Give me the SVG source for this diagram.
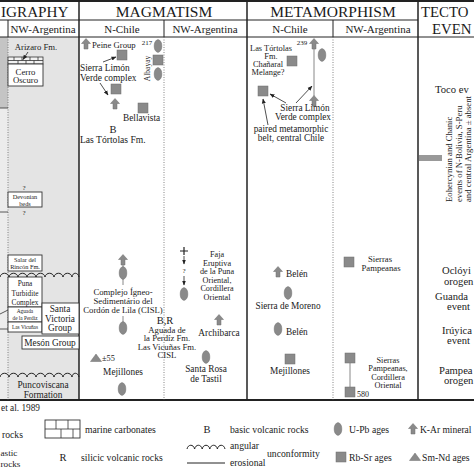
<svg xmlns="http://www.w3.org/2000/svg" width="474" height="474" viewBox="0 0 474 474">
<defs>
<style>
text{font-family:"Liberation Serif","Times New Roman",serif;fill:#1a1a1a}
.h{font-size:15.5px}
.sh{font-size:11px}
.m{font-size:9.3px}
.s{font-size:8.7px}
.xs{font-size:6.3px}
.xxs{font-size:5.3px}
.tiny{font-size:7px}
.tk{font-size:10.6px}
.lg{font-size:9.7px}
.fj{font-size:8.2px}
.c{text-anchor:middle}
.e{text-anchor:end}
.frame{stroke:#222;stroke-width:1.5;fill:none}
.thin{stroke:#222;stroke-width:1;fill:none}
.dot{stroke:#666;stroke-width:0.8;stroke-dasharray:1 1.5;fill:none}
.box{fill:#fff;stroke:#333;stroke-width:0.9}
.sym{fill:#8a8a8a;stroke:#6e6e6e;stroke-width:0.5}
.ln{stroke:#333;stroke-width:0.8;fill:none}
.arr{stroke:#222;stroke-width:0.8;fill:none;marker-end:url(#ah)}
.gl{stroke:#888;stroke-width:1;fill:none}
.wave{stroke:#222;stroke-width:1;fill:none}
</style>
<marker id="ah" viewBox="0 0 10 10" refX="9" refY="5" markerUnits="userSpaceOnUse" markerWidth="5" markerHeight="5" orient="auto"><path d="M0,1 L10,5 L0,9 Z" fill="#222"/></marker>
<path id="upb" d="M0,-6.5 C3,-5.5 3.8,-3 3.8,0 C3.8,3 3,5.5 0,6.5 C-3,5.5 -3.8,3 -3.8,0 C-3.8,-3 -3,-5.5 0,-6.5 Z"/>
<path id="kar" d="M0,-5.5 L4.5,-0.5 L2,-0.5 L2,5 L-2,5 L-2,-0.5 L-4.5,-0.5 Z"/>
<rect id="rbsr" x="-5" y="-5" width="10" height="10"/>
<path id="smnd" d="M0,-4 L5.5,3.5 L-5.5,3.5 Z"/>
</defs>
<rect width="474" height="474" fill="#fff"/>

<g id="backgrounds">
<rect x="8" y="37" width="71" height="363" fill="#e4e4e4"/>
<rect x="0" y="37" width="8" height="71" fill="#c4c4c4"/>
<rect x="0" y="108" width="8" height="292" fill="#ececec"/>
</g>

<g id="frame">
<line x1="0" y1="1" x2="474" y2="1" stroke="#222" stroke-width="2"/>
<line class="thin" x1="0" y1="20" x2="418" y2="20"/>
<line class="thin" x1="0" y1="37" x2="474" y2="37"/>
<line x1="0" y1="400" x2="474" y2="400" stroke="#222" stroke-width="2"/>
<line class="frame" x1="79" y1="0" x2="79" y2="400"/>
<line class="frame" x1="247" y1="0" x2="247" y2="400"/>
<line class="frame" x1="418" y1="0" x2="418" y2="400"/>
<line class="thin" x1="8" y1="20" x2="8" y2="37"/>
<line class="thin" x1="164" y1="20" x2="164" y2="37"/>
<line class="thin" x1="333" y1="20" x2="333" y2="37"/>
<line class="dot" x1="8" y1="37" x2="8" y2="400"/>
<line class="dot" x1="164" y1="37" x2="164" y2="400"/>
<line class="dot" x1="333" y1="37" x2="333" y2="400"/>
<line class="ln" x1="0" y1="108" x2="8" y2="108"/>
<line class="ln" x1="0" y1="212" x2="8" y2="212"/>
<line class="ln" x1="0" y1="314" x2="8" y2="310"/>
<line class="ln" x1="0" y1="329" x2="8" y2="329"/>
</g>

<g id="headers">
<text class="h e" x="68.5" y="17" style="font-size:15.2px">IGRAPHY</text>
<text class="h c" x="164" y="17">MAGMATISM</text>
<text class="h c" x="333" y="17">METAMORPHISM</text>
<text x="421" y="17" style="font-size:14.8px">TECTO</text>
<text x="432" y="34" style="font-size:14.8px">EVEN</text>
<text class="sh c" x="43" y="33">NW-Argentina</text>
<text class="sh c" x="122" y="33">N-Chile</text>
<text class="sh c" x="205" y="33">NW-Argentina</text>
<text class="sh c" x="290" y="33">N-Chile</text>
<text class="sh c" x="378" y="33">NW-Argentina</text>
</g>

<g id="strat-arizaro">
<text class="s c" x="36" y="50">Arizaro Fm.</text>
<rect x="8" y="57" width="35" height="7" fill="#f2f2f2" stroke="#333" stroke-width="0.8"/>
<path class="ln" d="M8,60.5 H43 M14,57 V60.5 M22,57 V60.5 M30,57 V60.5 M38,57 V60.5 M18,60.5 V64 M26,60.5 V64 M34,60.5 V64"/>
</g>
<g id="strat-cerro">
<rect class="box" x="8" y="64" width="35" height="22"/>
<text class="s c" x="25.5" y="74.5">Cerro</text>
<text class="s c" x="25.5" y="83">Oscuro</text>
</g>
<g id="strat-devonian">
<text class="tiny c" x="24" y="190">?</text>
<rect class="box" x="8" y="192" width="34" height="15"/>
<text class="xs c" x="25" y="198.5">Devonian</text>
<text class="xs c" x="25" y="205.5">beds</text>
<text class="tiny c" x="24" y="214.5">?</text>
</g>
<g id="strat-salar">
<rect class="box" x="8" y="255" width="34" height="16"/>
<text class="xs c" x="25" y="261.5">Salar del</text>
<text class="xs c" x="25" y="268.5">Rincón Fm.</text>
</g>
<g id="strat-puna">
<rect class="box" x="8" y="277" width="34" height="30"/>
<text class="c" x="25" y="286" style="font-size:7.3px">Puna</text>
<text class="c" x="25" y="295.5" style="font-size:7.3px">Turbidite</text>
<text class="c" x="25" y="304.5" style="font-size:7.3px">Complex</text>
</g>
<g id="strat-aguada">
<rect class="box" x="8" y="307" width="34" height="15"/>
<text class="xxs c" x="25" y="313">Aguada</text>
<text class="xxs c" x="25" y="319.5">de la Perdiz</text>
</g>
<g id="strat-vicunas">
<rect class="box" x="8" y="322" width="34" height="10"/>
<text class="xxs c" x="25" y="329.3">Las Vicuñas</text>
</g>
<g id="strat-santa-victoria">
<rect class="box" x="42" y="303" width="37" height="31"/>
<text class="m c" x="60" y="312">Santa</text>
<text class="m c" x="60" y="321.5">Victoria</text>
<text class="m c" x="60" y="331">Group</text>
</g>
<g id="strat-meson">
<rect class="box" x="22" y="336" width="57" height="13"/>
<text class="m c" x="50" y="346">Mesón Group</text>
</g>
<g id="strat-puncoviscana">
<text class="m c" x="43" y="388">Puncoviscana</text>
<text class="m c" x="43" y="397.5">Formation</text>
</g>
<g id="unconformities">
<path class="wave" d="M0,277 c1,-5 8,-5 9,0 c1,-5 8,-5 9,0 c1,-5 8,-5 9,0 c1,-5 8,-5 9,0 c1,-5 8,-5 9,0 c1,-5 8,-5 9,0 c1,-5 8,-5 9,0 c1,-5 8,-5 9,0 c0.5,-5 6,-5 7,0"/>
<path class="wave" d="M0,377 c1,-5 8,-5 9,0 c1,-5 8,-5 9,0 c1,-5 8,-5 9,0 c1,-5 8,-5 9,0 c1,-5 8,-5 9,0 c1,-5 8,-5 9,0 c1,-5 8,-5 9,0 c1,-5 8,-5 9,0 c0.5,-5 6,-5 7,0"/>
</g>

<g id="mag-peine">
<use href="#kar" class="sym" x="86" y="44"/>
<text class="s" x="92" y="48">Peine Group</text>
</g>
<g id="mag-albayay">
<text class="tiny c" x="147" y="44.5">217</text>
<text class="tiny c" transform="translate(150,68.5) rotate(-90)" style="font-size:7.5px">Albayay</text>
<use href="#upb" class="sym" x="158" y="46"/>
<use href="#rbsr" class="sym" x="158" y="60"/>
<use href="#upb" class="sym" x="158" y="74"/>
</g>
<g id="mag-limon-verde">
<use href="#rbsr" class="sym" x="122" y="55"/>
<text x="80" y="71" style="font-size:9.4px">Sierra Limón</text>
<text x="80" y="81" style="font-size:9.4px">Verde complex</text>
<use href="#rbsr" class="sym" x="116" y="89"/>
<use href="#kar" class="sym" x="115" y="104"/>
</g>
<g id="mag-bellavista">
<use href="#rbsr" class="sym" x="143" y="108"/>
<text class="m" x="123" y="121">Bellavista</text>
</g>
<g id="mag-tortolas">
<text class="c" x="113" y="133" style="font-size:10.5px">B</text>
<text class="m" x="80" y="142.5" style="font-size:9.6px">Las Tórtolas Fm.</text>
</g>
<g id="mag-cisl">
<line class="gl" x1="123" y1="265" x2="123" y2="285"/>
<use href="#kar" class="sym" x="123" y="260"/>
<use href="#upb" class="sym" x="123" y="273"/>
<text class="s c" x="123" y="295">Complejo Ígneo-</text>
<text class="s c" x="123" y="304">Sedimentário del</text>
<text class="s c" x="123" y="313">Cordón de Lila (CISL)</text>
<line class="gl" x1="123" y1="316" x2="123" y2="323"/>
<use href="#upb" class="sym" x="123" y="328"/>
</g>
<g id="mag-aguada">
<text class="c" x="165" y="324" style="font-size:10.5px">B,R</text>
<text class="s c" x="167" y="332.5">Aguada de</text>
<text class="s c" x="167" y="341">la Perdíz Fm.</text>
<text class="s c" x="167" y="349.5">Las Vicuñas Fm.</text>
<text class="s c" x="167" y="358">CISL</text>
</g>
<g id="mag-mejillones">
<use href="#smnd" class="sym" x="96" y="358"/>
<text x="102" y="361" style="font-size:8.3px">±55</text>
<text class="m c" x="123" y="375">Mejillones</text>
<use href="#upb" class="sym" x="122" y="389"/>
</g>

<g id="mag-faja">
<path d="M184,247 V255 M180,251 H188" stroke="#222" stroke-width="1.2" fill="none"/>
<text class="tiny c" x="184" y="273">?</text>
<use href="#upb" class="sym" x="184" y="294"/>
<text class="fj c" x="217" y="257">Faja</text>
<text class="fj c" x="217" y="265.6">Eruptiva</text>
<text class="fj c" x="217" y="274.2">de la Puna</text>
<text class="fj c" x="217" y="282.8">Oriental,</text>
<text class="fj c" x="217" y="291.4">Cordillera</text>
<text class="fj c" x="217" y="300">Oriental</text>
</g>
<g id="mag-archibarca">
<use href="#kar" class="sym" x="219" y="320"/>
<text class="m c" x="219" y="336">Archibarca</text>
</g>
<g id="mag-santa-rosa">
<use href="#upb" class="sym" x="206" y="357"/>
<text class="m c" x="206" y="372">Santa Rosa</text>
<text class="m c" x="206" y="382">de Tastil</text>
</g>

<g id="met-tortolas">
<text class="c" x="271" y="51" style="font-size:8.4px">Las Tórtolas</text>
<text class="c" x="271" y="59" style="font-size:8.4px">Fm.</text>
<text class="c" x="268" y="67" style="font-size:8.4px">Chañaral</text>
<text class="c" x="268" y="75" style="font-size:8.4px">Melange?</text>
<use href="#rbsr" class="sym" x="292" y="61"/>
</g>
<g id="met-limon-verde">
<text class="tiny c" x="302" y="45">239</text>
<line class="gl" x1="314" y1="48" x2="314" y2="96"/>
<use href="#kar" class="sym" x="314" y="44"/>
<use href="#kar" class="sym" x="314" y="101"/>
<use href="#upb" class="sym" x="322" y="55"/>
<text class="m c" x="305" y="111">Sierra Limón</text>
<text class="m c" x="303" y="120">Verde complex</text>
</g>
<g id="met-paired">
<use href="#rbsr" class="sym" x="263" y="91"/>
<text class="m c" x="291" y="131.5">paired metamorphic</text>
<text class="m c" x="291" y="140.5">belt, central Chile</text>
</g>
<g id="met-belen-1">
<use href="#kar" class="sym" x="278" y="272"/>
<text class="m" x="286" y="277">Belén</text>
</g>
<g id="met-moreno">
<use href="#upb" class="sym" x="288" y="293"/>
<text class="m c" x="288" y="309">Sierra de Moreno</text>
</g>
<g id="met-belen-2">
<use href="#upb" class="sym" x="278" y="329"/>
<text class="m" x="286" y="335">Belén</text>
</g>
<g id="met-mejillones">
<use href="#rbsr" class="sym" x="290" y="359"/>
<text class="m c" x="290" y="374">Mejillones</text>
</g>

<g id="met-pampeanas-1">
<use href="#rbsr" class="sym" x="349" y="262"/>
<text class="s c" x="380" y="262">Sierras</text>
<text class="s c" x="381" y="270.5">Pampeanas</text>
</g>
<g id="met-pampeanas-2">
<line class="gl" x1="350" y1="363" x2="350" y2="388"/>
<use href="#rbsr" class="sym" x="350" y="358"/>
<use href="#rbsr" class="sym" x="350" y="392"/>
<text x="357" y="397" style="font-size:8px">580</text>
<text class="c" x="388" y="363" style="font-size:8.3px">Sierras</text>
<text class="c" x="388" y="371.3" style="font-size:8.3px">Pampeanas,</text>
<text class="c" x="388" y="379.7" style="font-size:8.3px">Cordillera</text>
<text class="c" x="388" y="388" style="font-size:8.3px">Oriental</text>
</g>

<g id="tec-toco">
<text class="tk" x="435" y="93">Toco ev</text>
</g>
<g id="tec-eohercynian">
<rect x="419" y="155" width="23" height="6" fill="#999"/>
<text class="s" transform="translate(452,202) rotate(-90)">Eohercynian and Chanic</text>
<text class="s" transform="translate(461.5,202) rotate(-90)">events of N-Bolivia, S-Peru</text>
<text class="s" transform="translate(471,202) rotate(-90)">and central Argentina ± absent</text>
</g>
<g id="tec-ocloyic">
<text class="tk" x="442" y="274">Oclóyi</text>
<text class="tk" x="444" y="284.5">orogen</text>
</g>
<g id="tec-guandacol">
<text class="tk" x="435" y="300">Guanda</text>
<text class="tk" x="447" y="310">event</text>
</g>
<g id="tec-iruyica">
<text class="tk" x="442" y="333.5">Irúyica</text>
<text class="tk" x="447" y="343.5">event</text>
</g>
<g id="tec-pampean">
<text class="tk" x="439" y="373.5">Pampea</text>
<text class="tk" x="444" y="383.5">orogen</text>
</g>

<g id="connectors">
<line class="arr" x1="28" y1="52" x2="23" y2="59.5"/>
<line class="arr" x1="103" y1="62" x2="116" y2="57"/>
<line class="arr" x1="100" y1="83" x2="108" y2="95"/>
<line class="arr" x1="184" y1="256" x2="184" y2="264"/>
<line class="arr" x1="184" y1="276" x2="184" y2="285"/>
<line class="arr" x1="286" y1="103" x2="270" y2="94"/>
<line class="arr" x1="296" y1="103" x2="312" y2="86"/>
<line class="arr" x1="268" y1="125" x2="263" y2="99"/>
</g>

<g id="legend">
<text class="e" x="40" y="411" style="font-size:9.3px">et al. 1989</text>
<text class="lg" x="2" y="438">rocks</text>
<text x="0.5" y="456" style="font-size:9.2px">astic</text>
<text x="0.5" y="467" style="font-size:9.2px">rocks</text>
<rect x="45" y="420" width="35" height="18" fill="#fff" stroke="#333" stroke-width="0.9"/>
<path class="ln" d="M45,429 H80 M56,420 V429 M68,420 V429 M61,429 V438 M73,429 V438"/>
<text class="lg" x="85" y="433">marine carbonates</text>
<text class="c" x="63" y="461" style="font-size:10.5px">R</text>
<text class="lg" x="81" y="461">silicic volcanic rocks</text>
<text class="c" x="207" y="433" style="font-size:10.5px">B</text>
<text class="lg" x="230" y="433">basic volcanic rocks</text>
<path class="wave" d="M187,449 c1,-5 6.6,-5 7.6,0 c1,-5 6.6,-5 7.6,0 c1,-5 6.6,-5 7.6,0 c1,-5 6.6,-5 7.6,0 c1,-5 6.6,-5 7.6,0"/>
<text class="lg" x="230" y="449">angular</text>
<text class="lg" x="267" y="457">unconformity</text>
<line class="thin" x1="187" y1="463" x2="225" y2="463"/>
<text class="lg" x="230" y="466">erosional</text>
<use href="#upb" class="sym" x="338" y="429"/>
<text class="lg" x="349" y="432.5">U-Pb ages</text>
<use href="#kar" class="sym" x="413" y="429"/>
<text x="420" y="432.5" style="font-size:9.5px">K-Ar mineral</text>
<use href="#rbsr" class="sym" x="341" y="457"/>
<text class="lg" x="349" y="461">Rb-Sr ages</text>
<use href="#smnd" class="sym" x="415" y="457"/>
<text class="lg" x="422" y="461">Sm-Nd ages</text>
</g>
</svg>
